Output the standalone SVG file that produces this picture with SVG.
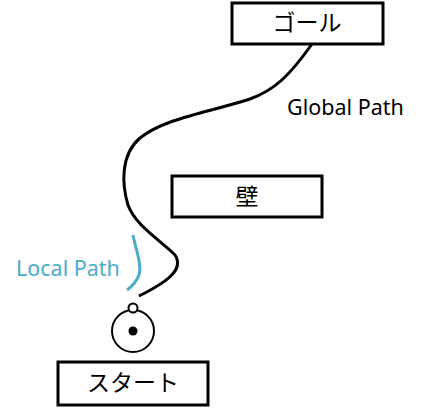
<svg xmlns="http://www.w3.org/2000/svg" width="422" height="413" viewBox="0 0 422 413">
<style>
.box{fill:#fff;stroke:#000;stroke-width:3}
.jp{font-family:"Noto Sans CJK JP","Noto Sans",sans-serif;font-size:23px;fill:#000;text-anchor:middle;dominant-baseline:central}
.lbl{font-family:"Noto Sans","Open Sans",sans-serif;font-size:21.5px}
.path{fill:none;stroke-width:3;stroke-linecap:butt}
</style>
<g id="connectors">
<path class="path" stroke="#000" d="M312,44 C 290,75 275,90 250,99 C 210,112 165,118 140,138 C 120,155 122,185 128,205 C 135,225 160,240 175,255 C 185,270 165,283 139,296"/>
<path class="path" stroke="#4BACC6" d="M133,235 C 136,250 142,265 139,275 C 136,283 131,287 127,290"/>
</g>
<g id="goal">
<rect class="box" x="232" y="3" width="151" height="41"/>
<text class="jp" x="307" y="21">ゴール</text>
</g>
<g id="wall">
<rect class="box" x="172" y="176" width="150" height="41"/>
<text class="jp" x="247" y="195">壁</text>
</g>
<g id="start">
<rect class="box" x="58" y="362" width="150" height="43"/>
<text class="jp" x="133" y="381">スタート</text>
</g>
<g id="robot">
<circle cx="133" cy="331" r="21" fill="#fff" stroke="#000" stroke-width="2"/>
<circle cx="133" cy="331" r="4.5" fill="#000"/>
<circle cx="133" cy="308" r="4.5" fill="#fff" stroke="#000" stroke-width="2"/>
</g>
<g id="labels">
<text class="lbl" x="287" y="115" fill="#000">Global Path</text>
<text class="lbl" x="16" y="276" fill="#4BACC6">Local Path</text>
</g>
</svg>
